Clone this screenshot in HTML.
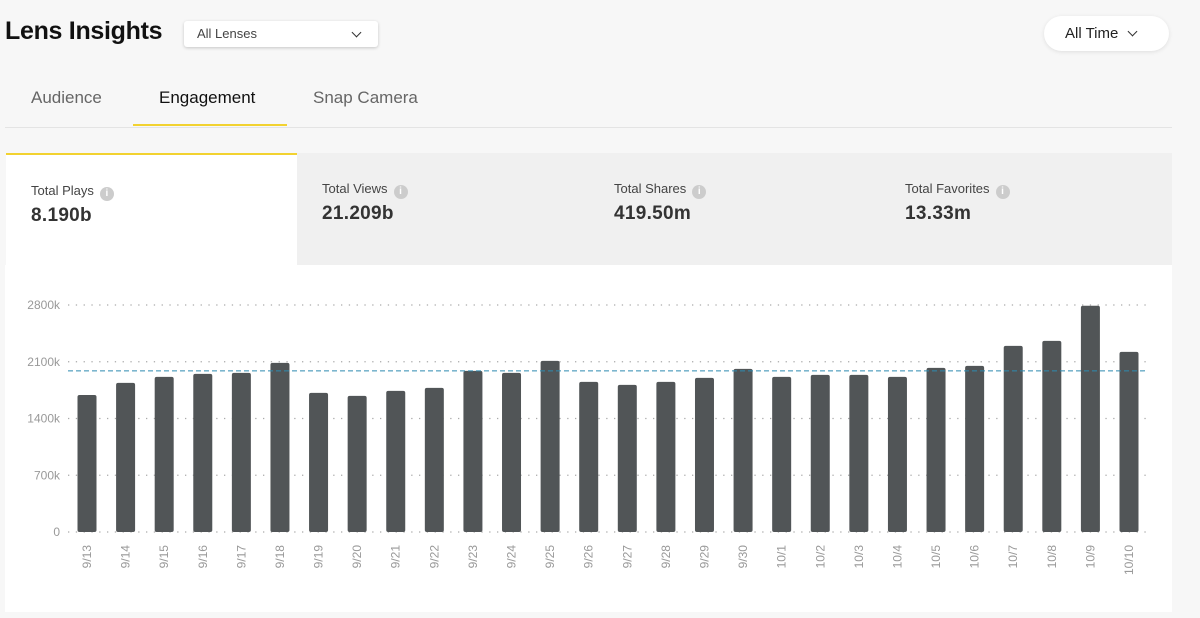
<!DOCTYPE html>
<html><head><meta charset="utf-8"><style>
body{margin:0;width:1200px;height:618px;background:#f7f7f7;font-family:"Liberation Sans",sans-serif;position:relative;overflow:hidden}
.abs{position:absolute}
.stat{position:absolute;top:153px;height:112px;width:291px}
.lbl{position:absolute;left:25px;top:28px;font-size:13px;color:#444}
.val{position:absolute;left:25px;top:50px;font-size:19px;color:#333;font-weight:bold;letter-spacing:0.3px}
.info{display:inline-block;width:14px;height:14px;border-radius:50%;background:#ccc;color:#fff;font-size:10px;text-align:center;line-height:14px;margin-left:6px;font-weight:bold;vertical-align:-1px}
.chev{position:absolute;width:6px;height:6px;border-right:1.5px solid #333;border-bottom:1.5px solid #333;transform:rotate(45deg)}
</style></head><body>
<div class="abs" style="left:5px;top:17px;font-size:25px;font-weight:bold;color:#111;letter-spacing:-0.3px">Lens Insights</div>
<div class="abs" style="left:184px;top:21px;width:194px;height:26px;background:#fff;border-radius:3px;box-shadow:0 1px 3px rgba(0,0,0,.2);font-size:13px;color:#444;line-height:26px;text-indent:13px">All Lenses<span class="chev" style="right:18px;top:8px"></span></div>
<div class="abs" style="left:1044px;top:16px;width:125px;height:35px;background:#fff;border-radius:18px;box-shadow:0 1px 4px rgba(0,0,0,.1);font-size:15px;color:#222;line-height:35px;text-indent:21px">All Time<span class="chev" style="right:33px;top:12px"></span></div>
<div class="abs" style="left:31px;top:88px;font-size:17px;color:#666">Audience</div>
<div class="abs" style="left:159px;top:88px;font-size:17px;color:#111">Engagement</div>
<div class="abs" style="left:313px;top:88px;font-size:17px;color:#666">Snap Camera</div>
<div class="abs" style="left:5px;top:127px;width:1167px;height:1px;background:#e4e4e4"></div>
<div class="abs" style="left:133px;top:124px;width:154px;height:2px;background:#f2d230"></div>
<div class="abs" style="left:297px;top:153px;width:875px;height:112px;background:#f0f0f0"></div>
<div class="stat" style="left:6px;background:#fff;border-top:2px solid #f2d230;top:153px;height:110px"><div class="lbl">Total Plays<span class="info">i</span></div><div class="val">8.190b</div></div>
<div class="stat" style="left:297px"><div class="lbl">Total Views<span class="info">i</span></div><div class="val">21.209b</div></div>
<div class="stat" style="left:589px"><div class="lbl">Total Shares<span class="info">i</span></div><div class="val">419.50m</div></div>
<div class="stat" style="left:880px"><div class="lbl">Total Favorites<span class="info">i</span></div><div class="val">13.33m</div></div>
<div class="abs" style="left:5px;top:265px;width:1167px;height:347px;background:#fff"></div>
<svg id="chart" class="abs" style="left:0;top:0" width="1200" height="618"></svg>
<script>
const categories=["9/13","9/14","9/15","9/16","9/17","9/18","9/19","9/20","9/21","9/22","9/23","9/24","9/25","9/26","9/27","9/28","9/29","9/30","10/1","10/2","10/3","10/4","10/5","10/6","10/7","10/8","10/9","10/10"];
const values=[1690,1840,1913,1950,1963,2086,1716,1679,1740,1778,1988,1963,2111,1852,1815,1852,1901,2012,1913,1938,1938,1913,2025,2049,2296,2357,2790,2222];
const ticks=[0,700,1400,2100,2800];
const tickLabels=["0","700k","1400k","2100k","2800k"];
const average=[1988];
const svg=document.getElementById('chart');const NS='http://www.w3.org/2000/svg';
const y0=532,yTop=305,vMax=2800,x0=87,x1=1129,bw=19;
const Y=v=>y0-(v/vMax)*(y0-yTop);
const X=i=>x0+i*(x1-x0)/(categories.length-1);
function mk(t,a){const e=document.createElementNS(NS,t);for(const k in a)e.setAttribute(k,a[k]);svg.appendChild(e);return e;}
ticks.forEach((t,i)=>{
 const g=mk('line',{x1:68,x2:1148,y1:Y(t),y2:Y(t),stroke:'#aaa','stroke-width':1.3,'stroke-dasharray':'1.3 6.5'});
 
 
 const l=mk('text',{x:60,y:Y(t)+4,'text-anchor':'end','font-size':12,fill:'#999','font-family':'Liberation Sans, sans-serif'});
 l.textContent=tickLabels[i];
 
 
});
values.forEach((v,i)=>{
 const r=mk('rect',{x:X(i)-bw/2,y:Y(v),width:bw,height:y0-Y(v),rx:2,fill:'#515557'});
 
 
 const tx=X(i)+4,ty=545;
 const t=mk('text',{x:tx,y:ty,transform:`rotate(-90 ${tx} ${ty})`,'text-anchor':'end','font-size':12,fill:'#999','font-family':'Liberation Sans, sans-serif'});
 t.textContent=categories[i];
 
 
});
const a=mk('line',{x1:68,x2:1148,y1:Y(average[0]),y2:Y(average[0]),stroke:'#2e8bb0','stroke-width':1,'stroke-dasharray':'5 3'});


</script>
</body></html>
